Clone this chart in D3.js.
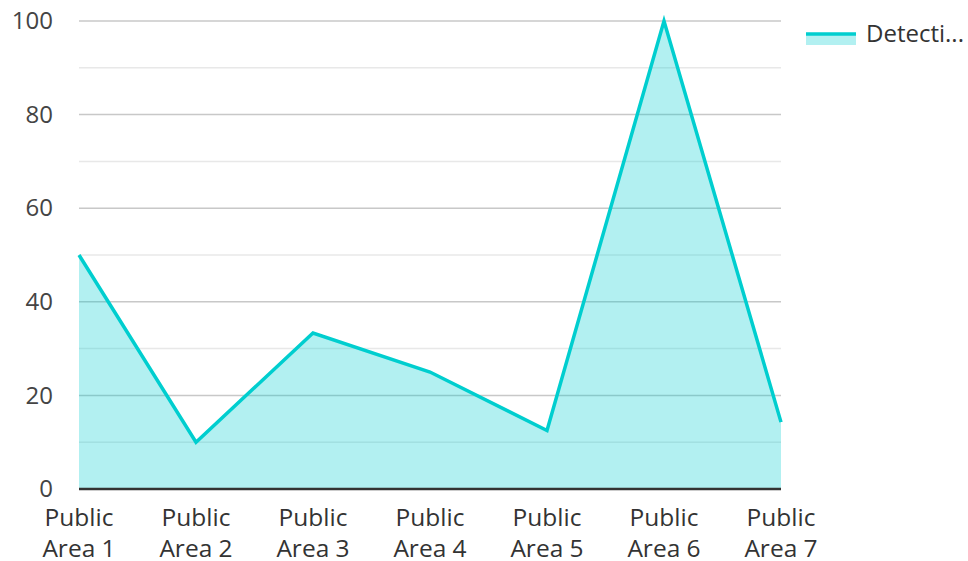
<!DOCTYPE html>
<html><head><meta charset="utf-8">
<script src="https://cdn.jsdelivr.net/npm/d3@7"></script>
<style>
html,body{margin:0;padding:0;background:#fff;}
svg text{font-family:"Open Sans",sans-serif;}
</style></head>
<body><svg id="chart" width="968" height="561"></svg>
<script>
const categories = ["Public Area 1","Public Area 2","Public Area 3","Public Area 4","Public Area 5","Public Area 6","Public Area 7"];
const values = [50, 10, 33.33, 25, 12.5, 100, 14.29];
const seriesName = "Detection";
const legendLabel = "Detecti...";
const yTicks = [0, 20, 40, 60, 80, 100];
const yMinorTicks = [10, 30, 50, 70, 90];

(function(){
const svg = d3.select("#chart");
const pLeft = 79, pRight = 781, pTop = 21, pBottom = 489;
const color = "#00cecf";

const x = d3.scalePoint().domain(categories).range([pLeft, pRight]);
const y = d3.scaleLinear().domain([0, 100]).range([pBottom, pTop]);

// minor grid
svg.append("g").selectAll("line").data(yMinorTicks).join("line")
  .attr("x1", pLeft).attr("x2", pRight)
  .attr("y1", d => y(d)).attr("y2", d => y(d))
  .attr("stroke", "#e8e8e8").attr("stroke-width", 1.5);
// major grid
svg.append("g").selectAll("line").data(yTicks.filter(d => d > 0)).join("line")
  .attr("x1", pLeft).attr("x2", pRight)
  .attr("y1", d => y(d)).attr("y2", d => y(d))
  .attr("stroke", "#c8c8c8").attr("stroke-width", 1.5);

const data = categories.map((c, i) => ({c, v: values[i]}));

svg.append("path").datum(data)
  .attr("d", d3.area().x(d => x(d.c)).y0(y(0)).y1(d => y(d.v)))
  .attr("fill", color).attr("fill-opacity", 0.3);

svg.append("path").datum(data)
  .attr("d", d3.line().x(d => x(d.c)).y(d => y(d.v)))
  .attr("fill", "none").attr("stroke", color).attr("stroke-width", 3.5)
  .attr("stroke-linejoin", "miter");

// x axis line
svg.append("line").attr("x1", pLeft).attr("x2", pRight)
  .attr("y1", y(0)).attr("y2", y(0)).attr("stroke", "#333").attr("stroke-width", 2.5);

// y labels
const yAxis = d3.axisLeft(y).tickValues(yTicks).tickSize(0).tickPadding(26);
const gy = svg.append("g").attr("transform", `translate(${pLeft},0)`).call(yAxis);
gy.select(".domain").remove();
gy.selectAll("text").attr("font-size", 24).attr("fill", "#444")
  .attr("font-family", "'Open Sans',sans-serif");

// x labels (two lines)
const gx = svg.append("g");
categories.forEach(c => {
  const parts = c.split(" ");
  const t = gx.append("text").attr("text-anchor", "middle").attr("font-size", 24.5).attr("fill", "#333");
  t.append("tspan").attr("x", x(c)).attr("y", 526).text(parts[0]);
  t.append("tspan").attr("x", x(c)).attr("y", 557).text(parts.slice(1).join(" "));
});

// legend
const lg = svg.append("g");
lg.append("rect").attr("x", 806).attr("y", 34).attr("width", 50).attr("height", 11)
  .attr("fill", color).attr("fill-opacity", 0.3);
lg.append("line").attr("x1", 806).attr("x2", 856).attr("y1", 34).attr("y2", 34)
  .attr("stroke", color).attr("stroke-width", 3.5);
lg.append("text").attr("x", 866).attr("y", 42).attr("font-size", 24).attr("fill", "#333")
  .text(legendLabel);
})();
</script>
</body></html>
